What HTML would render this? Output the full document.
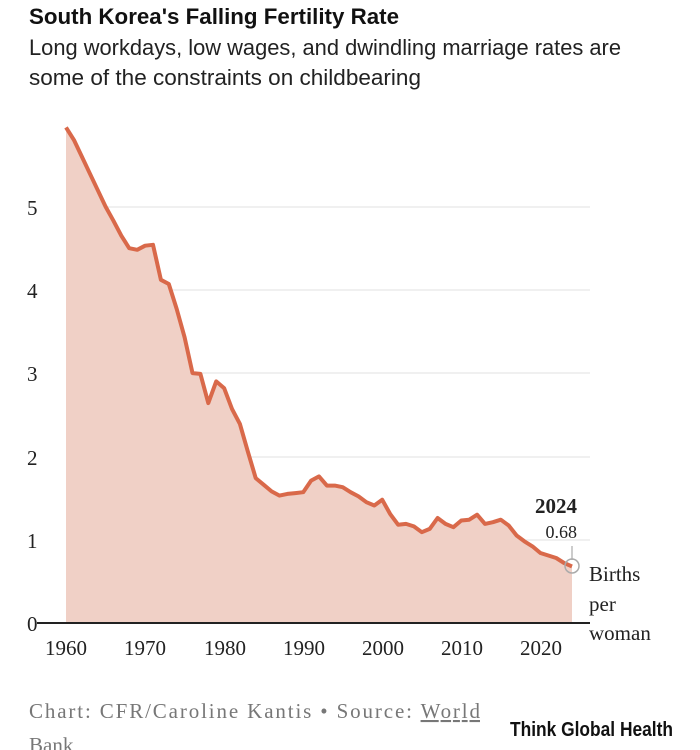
<!DOCTYPE html>
<html><head><meta charset="utf-8"><style>
body{margin:0;background:#fff;width:700px;height:750px;overflow:hidden;}
svg{display:block}
</style></head><body>
<svg width="700" height="750" xmlns="http://www.w3.org/2000/svg">
<text x="29" y="24" font-family="'Liberation Sans',sans-serif" font-weight="bold" font-size="22" fill="#111" textLength="370" lengthAdjust="spacingAndGlyphs">South Korea's Falling Fertility Rate</text>
<text x="29" y="55" font-family="'Liberation Sans',sans-serif" font-size="22" fill="#222" textLength="592" lengthAdjust="spacingAndGlyphs">Long workdays, low wages, and dwindling marriage rates are</text>
<text x="29" y="85" font-family="'Liberation Sans',sans-serif" font-size="22" fill="#222" textLength="392" lengthAdjust="spacingAndGlyphs">some of the constraints on childbearing</text>
<g stroke="#e2e2e2" stroke-width="1">
<line x1="66" y1="207" x2="590" y2="207"/><line x1="66" y1="290" x2="590" y2="290"/>
<line x1="66" y1="373" x2="590" y2="373"/><line x1="66" y1="457" x2="590" y2="457"/>
<line x1="66" y1="540" x2="590" y2="540"/>
</g>
<g font-family="'Liberation Serif',serif" font-size="21" fill="#222">
<text x="27" y="215">5</text><text x="27" y="298">4</text><text x="27" y="381">3</text>
<text x="27" y="465">2</text><text x="27" y="548">1</text><text x="27" y="631">0</text>
<g text-anchor="middle">
<text x="66" y="655">1960</text><text x="145" y="655">1970</text><text x="225" y="655">1980</text>
<text x="304" y="655">1990</text><text x="383" y="655">2000</text><text x="462" y="655">2010</text><text x="541" y="655">2020</text>
</g>
<text x="589" y="581">Births</text><text x="589" y="611">per</text><text x="589" y="640">woman</text>
<text x="577" y="513" text-anchor="end" font-weight="bold">2024</text>
<text x="577" y="538" text-anchor="end" font-size="18">0.68</text>
</g>
<path id="area" d="" fill="#f0d0c6"/>
<line x1="37" y1="623" x2="590" y2="623" stroke="#222" stroke-width="2"/>
<path id="ln" d="" fill="none" stroke="#d9694a" stroke-width="4" stroke-linejoin="round"/>
<line x1="572" y1="546" x2="572" y2="560" stroke="#999" stroke-width="1"/>
<circle cx="572" cy="566" r="7" fill="none" stroke="#aaa" stroke-width="1.5"/>
<text x="29" y="718" font-family="'Liberation Serif',serif" font-size="21" fill="#777" textLength="451" lengthAdjust="spacing">Chart: CFR/Caroline Kantis • Source: <tspan text-decoration="underline">World</tspan></text>
<text x="29" y="752" font-family="'Liberation Serif',serif" font-size="21" fill="#777">Bank</text>
<text x="510" y="736" font-family="'Liberation Sans',sans-serif" font-weight="bold" font-size="20" fill="#111" textLength="163" lengthAdjust="spacingAndGlyphs">Think Global Health</text>
</svg>
<script>
var d=[5.95,5.8,5.6,5.4,5.2,5.0,4.83,4.65,4.5,4.48,4.53,4.54,4.12,4.07,3.77,3.43,3.0,2.99,2.64,2.9,2.82,2.57,2.39,2.06,1.74,1.66,1.58,1.53,1.55,1.56,1.57,1.71,1.76,1.65,1.65,1.63,1.57,1.52,1.45,1.41,1.48,1.31,1.18,1.19,1.16,1.09,1.13,1.26,1.19,1.15,1.23,1.24,1.30,1.19,1.21,1.24,1.17,1.05,0.98,0.92,0.84,0.81,0.78,0.72,0.68];
var p=d.map(function(v,i){return (66+i*7.906).toFixed(1)+","+(623-v*83.3).toFixed(1)});
document.getElementById("ln").setAttribute("d","M"+p.join("L"));
document.getElementById("area").setAttribute("d","M66,623L"+p.join("L")+"L572,623Z");
</script>
</body></html>
